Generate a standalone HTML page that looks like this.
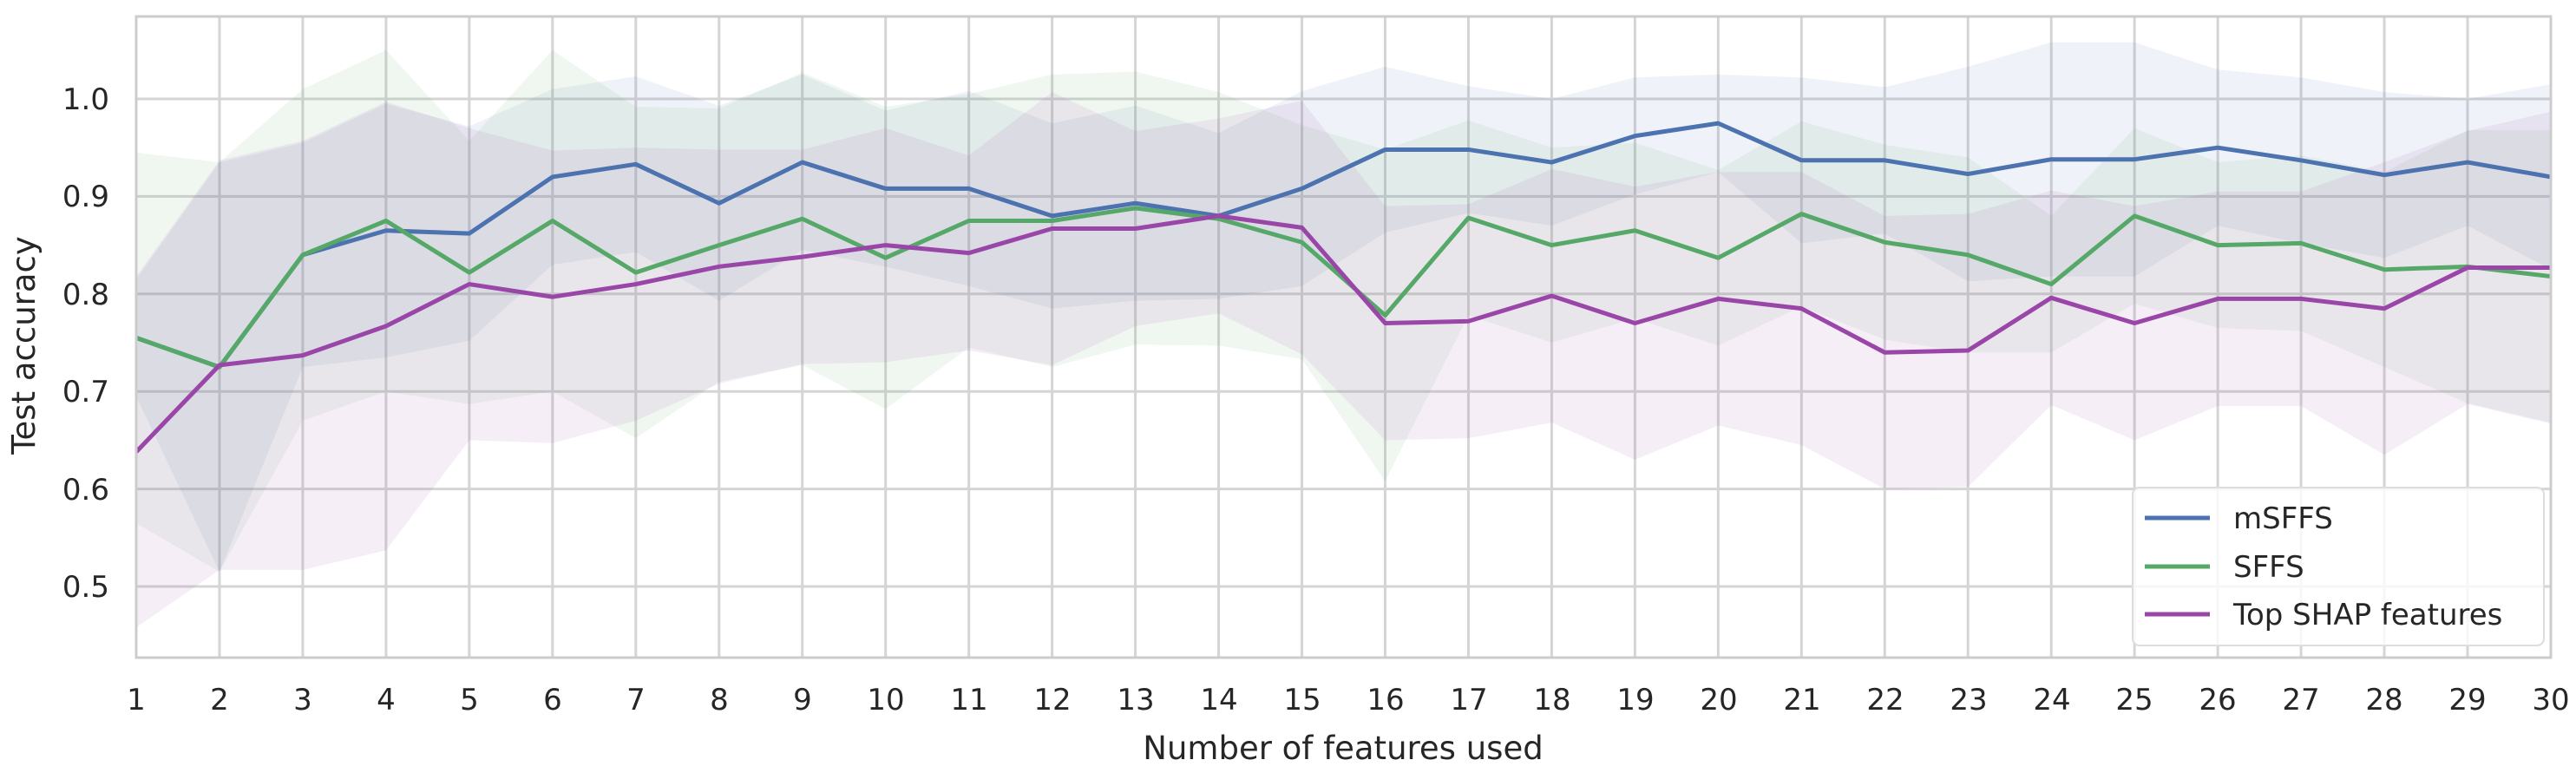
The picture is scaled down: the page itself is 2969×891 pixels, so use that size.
<!DOCTYPE html>
<html><head><meta charset="utf-8"><style>
html,body{margin:0;padding:0;background:#fff;}
svg{display:block;font-family:"DejaVu Sans","Liberation Sans",sans-serif;}
</style></head><body>
<svg id="s" width="2969" height="891" viewBox="0 0 2969 891" xmlns="http://www.w3.org/2000/svg">
<rect width="2969" height="891" fill="#fff"/>
<g id="grid"></g>
<g id="bands"></g>
<g id="lines"></g>
<rect x="157" y="19" width="2783" height="739" fill="none" stroke="#cccccc" stroke-width="3"/>
<g fill="#262626" font-size="34" text-anchor="end">
<text x="126" y="126">1.0</text><text x="126" y="238">0.9</text><text x="126" y="351">0.8</text>
<text x="126" y="463">0.7</text><text x="126" y="576">0.6</text><text x="126" y="688">0.5</text>
</g>
<g fill="#262626" font-size="34" text-anchor="middle">
<text x="157" y="818">1</text><text x="253" y="818">2</text><text x="349" y="818">3</text><text x="445" y="818">4</text><text x="541" y="818">5</text>
<text x="637" y="818">6</text><text x="733" y="818">7</text><text x="829" y="818">8</text><text x="925" y="818">9</text><text x="1021" y="818">10</text>
<text x="1117" y="818">11</text><text x="1213" y="818">12</text><text x="1309" y="818">13</text><text x="1405" y="818">14</text><text x="1501" y="818">15</text>
<text x="1597" y="818">16</text><text x="1693" y="818">17</text><text x="1789" y="818">18</text><text x="1885" y="818">19</text><text x="1981" y="818">20</text>
<text x="2077" y="818">21</text><text x="2173" y="818">22</text><text x="2269" y="818">23</text><text x="2365" y="818">24</text><text x="2460" y="818">25</text>
<text x="2556" y="818">26</text><text x="2652" y="818">27</text><text x="2748" y="818">28</text><text x="2844" y="818">29</text><text x="2940" y="818">30</text>
<text x="1548" y="875" font-size="37">Number of features used</text>
<text transform="translate(40,398) rotate(-90)" font-size="37">Test accuracy</text>
</g>
<g>
<rect x="2458" y="562" width="474" height="182" rx="8" fill="#fff" fill-opacity="0.8" stroke="#dddddd" stroke-width="2"/>
<line x1="2472" y1="597" x2="2547" y2="597" stroke="#4c72b0" stroke-width="5"/>
<line x1="2472" y1="653" x2="2547" y2="653" stroke="#55a868" stroke-width="5"/>
<line x1="2472" y1="708" x2="2547" y2="708" stroke="#9a46a8" stroke-width="5"/>
<g fill="#262626" font-size="34"><text x="2574" y="609">mSFFS</text><text x="2574" y="665">SFFS</text><text x="2574" y="720">Top SHAP features</text></g>
</g>
</svg>
<script>
var X=function(i){return 157+i*(2783/29);};
var Y=function(v){return 114+(1-v)*1124;};
var ns="http://www.w3.org/2000/svg";
function el(p,t,a){var e=document.createElementNS(ns,t);for(var k in a)e.setAttribute(k,a[k]);document.getElementById(p).appendChild(e);}
for(var i=0;i<30;i++)el("grid","line",{x1:X(i),x2:X(i),y1:19,y2:758,stroke:"#d5d5d5","stroke-width":3});
[1.0,0.9,0.8,0.7,0.6,0.5].forEach(function(v){el("grid","line",{x1:157,x2:2940,y1:Y(v),y2:Y(v),stroke:"#d5d5d5","stroke-width":3});});
var D=[
["#4c72b0",[0.755,0.725,0.84,0.865,0.862,0.92,0.933,0.893,0.935,0.908,0.908,0.88,0.893,0.88,0.908,0.948,0.948,0.935,0.962,0.975,0.937,0.937,0.923,0.938,0.938,0.95,0.937,0.922,0.935,0.92],
[0.06,0.21,0.115,0.13,0.11,0.09,0.09,0.1,0.09,0.08,0.1,0.095,0.1,0.085,0.1,0.085,0.065,0.065,0.06,0.05,0.085,0.075,0.11,0.12,0.12,0.08,0.085,0.085,0.065,0.095]],
["#55a868",[0.755,0.725,0.84,0.875,0.822,0.875,0.822,0.85,0.877,0.837,0.875,0.875,0.888,0.877,0.853,0.778,0.878,0.85,0.865,0.837,0.882,0.853,0.84,0.81,0.88,0.85,0.852,0.825,0.828,0.818],
[0.19,0.21,0.17,0.175,0.135,0.175,0.17,0.14,0.15,0.155,0.13,0.15,0.14,0.13,0.12,0.17,0.1,0.1,0.09,0.09,0.095,0.1,0.1,0.07,0.09,0.085,0.09,0.1,0.14,0.15]],
["#9a46a8",[0.638,0.727,0.737,0.767,0.81,0.797,0.81,0.828,0.838,0.85,0.842,0.867,0.867,0.88,0.868,0.77,0.772,0.798,0.77,0.795,0.785,0.74,0.742,0.796,0.77,0.795,0.795,0.785,0.827,0.827],
[0.18,0.21,0.22,0.23,0.16,0.15,0.14,0.12,0.11,0.12,0.1,0.14,0.1,0.1,0.13,0.12,0.12,0.13,0.14,0.13,0.14,0.14,0.14,0.11,0.12,0.11,0.11,0.15,0.14,0.16]]];
D.forEach(function(d){
 var m=d[1],s=d[2],up=[],lo=[],ln=[];
 for(var i=0;i<30;i++){up.push(X(i)+","+Y(m[i]+s[i]));lo.unshift(X(i)+","+Y(m[i]-s[i]));ln.push(X(i)+","+Y(m[i]));}
 el("bands","polygon",{points:up.concat(lo).join(" "),fill:d[0],"fill-opacity":0.09});
 el("lines","polyline",{points:ln.join(" "),fill:"none",stroke:d[0],"stroke-width":5,"stroke-linejoin":"round"});
});
</script>
</body></html>
